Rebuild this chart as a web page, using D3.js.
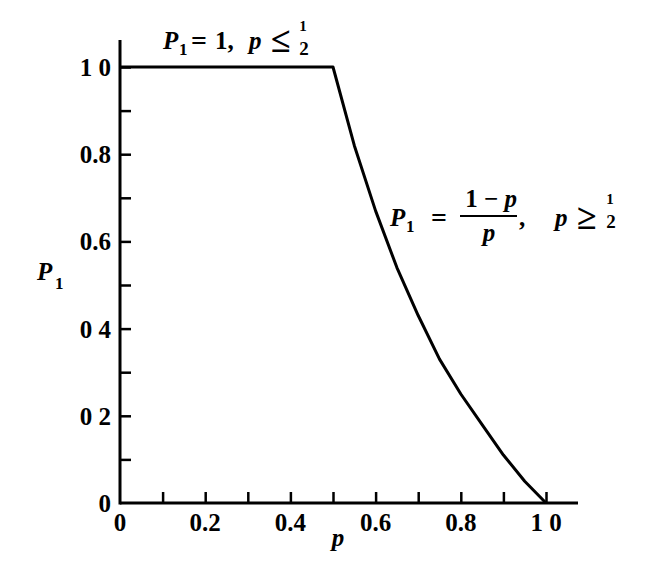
<!DOCTYPE html>
<html>
<head>
    <meta charset="utf-8">
    <title>P1 vs p</title>
    <style>
        html, body { margin: 0px; padding: 0px; background: #fff; }
        svg { display: block; }
        text { font-family: "Liberation Serif", "DejaVu Serif", serif; font-weight: bold; fill: #000; }
        .it { font-style: italic; }
    </style>
    <script src="https://d3js.org/d3.v7.min.js"></script>
</head>
<body>
<script>

    // values
    var pValues  = [0, 0.5, 0.55, 0.6, 0.65, 0.7, 0.75, 0.8, 0.85, 0.9, 0.95, 1.0];
    var p1Values = [1, 1, 0.82, 0.67, 0.54, 0.43, 0.33, 0.25, 0.18, 0.11, 0.05, 0];

    var xTicks = [0.1, 0.2, 0.3, 0.4, 0.5, 0.6, 0.7, 0.8, 0.9, 1.0];
    var yTicks = [0.1, 0.2, 0.3, 0.4, 0.5, 0.6, 0.7, 0.8, 0.9, 1.0];
    var xLabelVals = [0, 0.2, 0.4, 0.6, 0.8, 1.0];
    var xLabelText = ["0", "0.2", "0.4", "0.6", "0.8", "1 0"];
    var yLabelVals = [0, 0.2, 0.4, 0.6, 0.8, 1.0];
    var yLabelText = ["0", "0 2", "0 4", "0.6", "0.8", "1 0"];

    var width = 664, height = 580;

    var x = d3.scaleLinear().domain([0, 1]).range([120, 546]);
    var y = d3.scaleLinear().domain([0, 1]).range([503, 67]);

    var svg = d3.select("body").append("svg")
        .attr("width", width)
        .attr("height", height);

    svg.append("rect").attr("width", width).attr("height", height).attr("fill", "#fff");

    // inward ticks, labels added separately
    var xAxis = d3.axisBottom(x).tickValues(xTicks).tickSize(-11).tickFormat("");
    var yAxis = d3.axisLeft(y).tickValues(yTicks).tickSize(-11).tickFormat("");

    var gx = svg.append("g").attr("transform", "translate(0," + y(0) + ")").call(xAxis);
    var gy = svg.append("g").attr("transform", "translate(" + x(0) + ",0)").call(yAxis);
    gx.select(".domain").remove();
    gy.select(".domain").remove();
    gx.selectAll(".tick line").attr("stroke", "#000").attr("stroke-width", 2.5);
    gy.selectAll(".tick line").attr("stroke", "#000").attr("stroke-width", 2.5);

    // axis lines run past the data range
    svg.append("line")
        .attr("x1", x(0)).attr("y1", y(0))
        .attr("x2", 578).attr("y2", y(0))
        .attr("stroke", "#000").attr("stroke-width", 3);
    svg.append("line")
        .attr("x1", x(0)).attr("y1", y(0) + 1.5)
        .attr("x2", x(0)).attr("y2", 40)
        .attr("stroke", "#000").attr("stroke-width", 3);

    svg.selectAll(".xlab").data(xLabelVals).enter().append("text")
        .attr("class", "xlab")
        .attr("x", function(d) { return x(d); })
        .attr("y", 531)
        .attr("text-anchor", "middle")
        .attr("font-size", 25)
        .text(function(d, i) { return xLabelText[i]; });

    svg.selectAll(".ylab").data(yLabelVals).enter().append("text")
        .attr("class", "ylab")
        .attr("x", 111)
        .attr("y", function(d) { return y(d) + 9; })
        .attr("text-anchor", "end")
        .attr("font-size", 25)
        .text(function(d, i) { return yLabelText[i]; });

    // the curve
    var pts = pValues.map(function(p, i) { return [p, p1Values[i]]; });
    var line = d3.line()
        .x(function(d) { return x(d[0]); })
        .y(function(d) { return y(d[1]); });

    svg.append("path")
        .attr("d", line(pts))
        .attr("fill", "none")
        .attr("stroke", "#000")
        .attr("stroke-width", 3)
        .attr("stroke-linejoin", "round");

    // small helper for placed text pieces
    function put(tx, ty, size, str, italic, anchor) {
        return svg.append("text")
            .attr("x", tx).attr("y", ty)
            .attr("font-size", size)
            .attr("class", italic ? "it" : null)
            .attr("text-anchor", anchor || "start")
            .text(str);
    }

    // axis titles
    put(37, 280, 25, "P", true);
    put(55, 289, 17, "1");
    put(338, 546, 25, "p", true, "middle");

    // top annotation: P1 = 1, p <= 1/2
    put(163, 49, 25, "P", true);
    put(179, 55, 17, "1");
    put(199, 50, 28, "=", false, "middle");
    put(215, 49, 25, "1,");
    put(249, 49, 25, "p", true);
    put(281, 52, 36, "\u2264", false, "middle");
    put(303, 31, 15, "1", false, "middle");
    put(304, 55, 19, "2", false, "middle");

    // right annotation: P1 = (1-p)/p, p >= 1/2
    put(390, 226, 25, "P", true);
    put(406, 232, 17, "1");
    put(439, 227, 28, "=", false, "middle");
    var num = put(491, 207, 25, "1 \u2212 ", false, "middle");
    num.append("tspan").attr("class", "it").text("p");
    svg.append("line")
        .attr("x1", 460).attr("x2", 517)
        .attr("y1", 216).attr("y2", 216)
        .attr("stroke", "#000").attr("stroke-width", 2);
    put(489, 241, 25, "p", true, "middle");
    put(519, 226, 25, ",");
    put(555, 226, 25, "p", true);
    put(587, 229, 36, "\u2265", false, "middle");
    put(610, 204, 15, "1", false, "middle");
    put(611, 228, 19, "2", false, "middle");

</script>
</body>
</html>
